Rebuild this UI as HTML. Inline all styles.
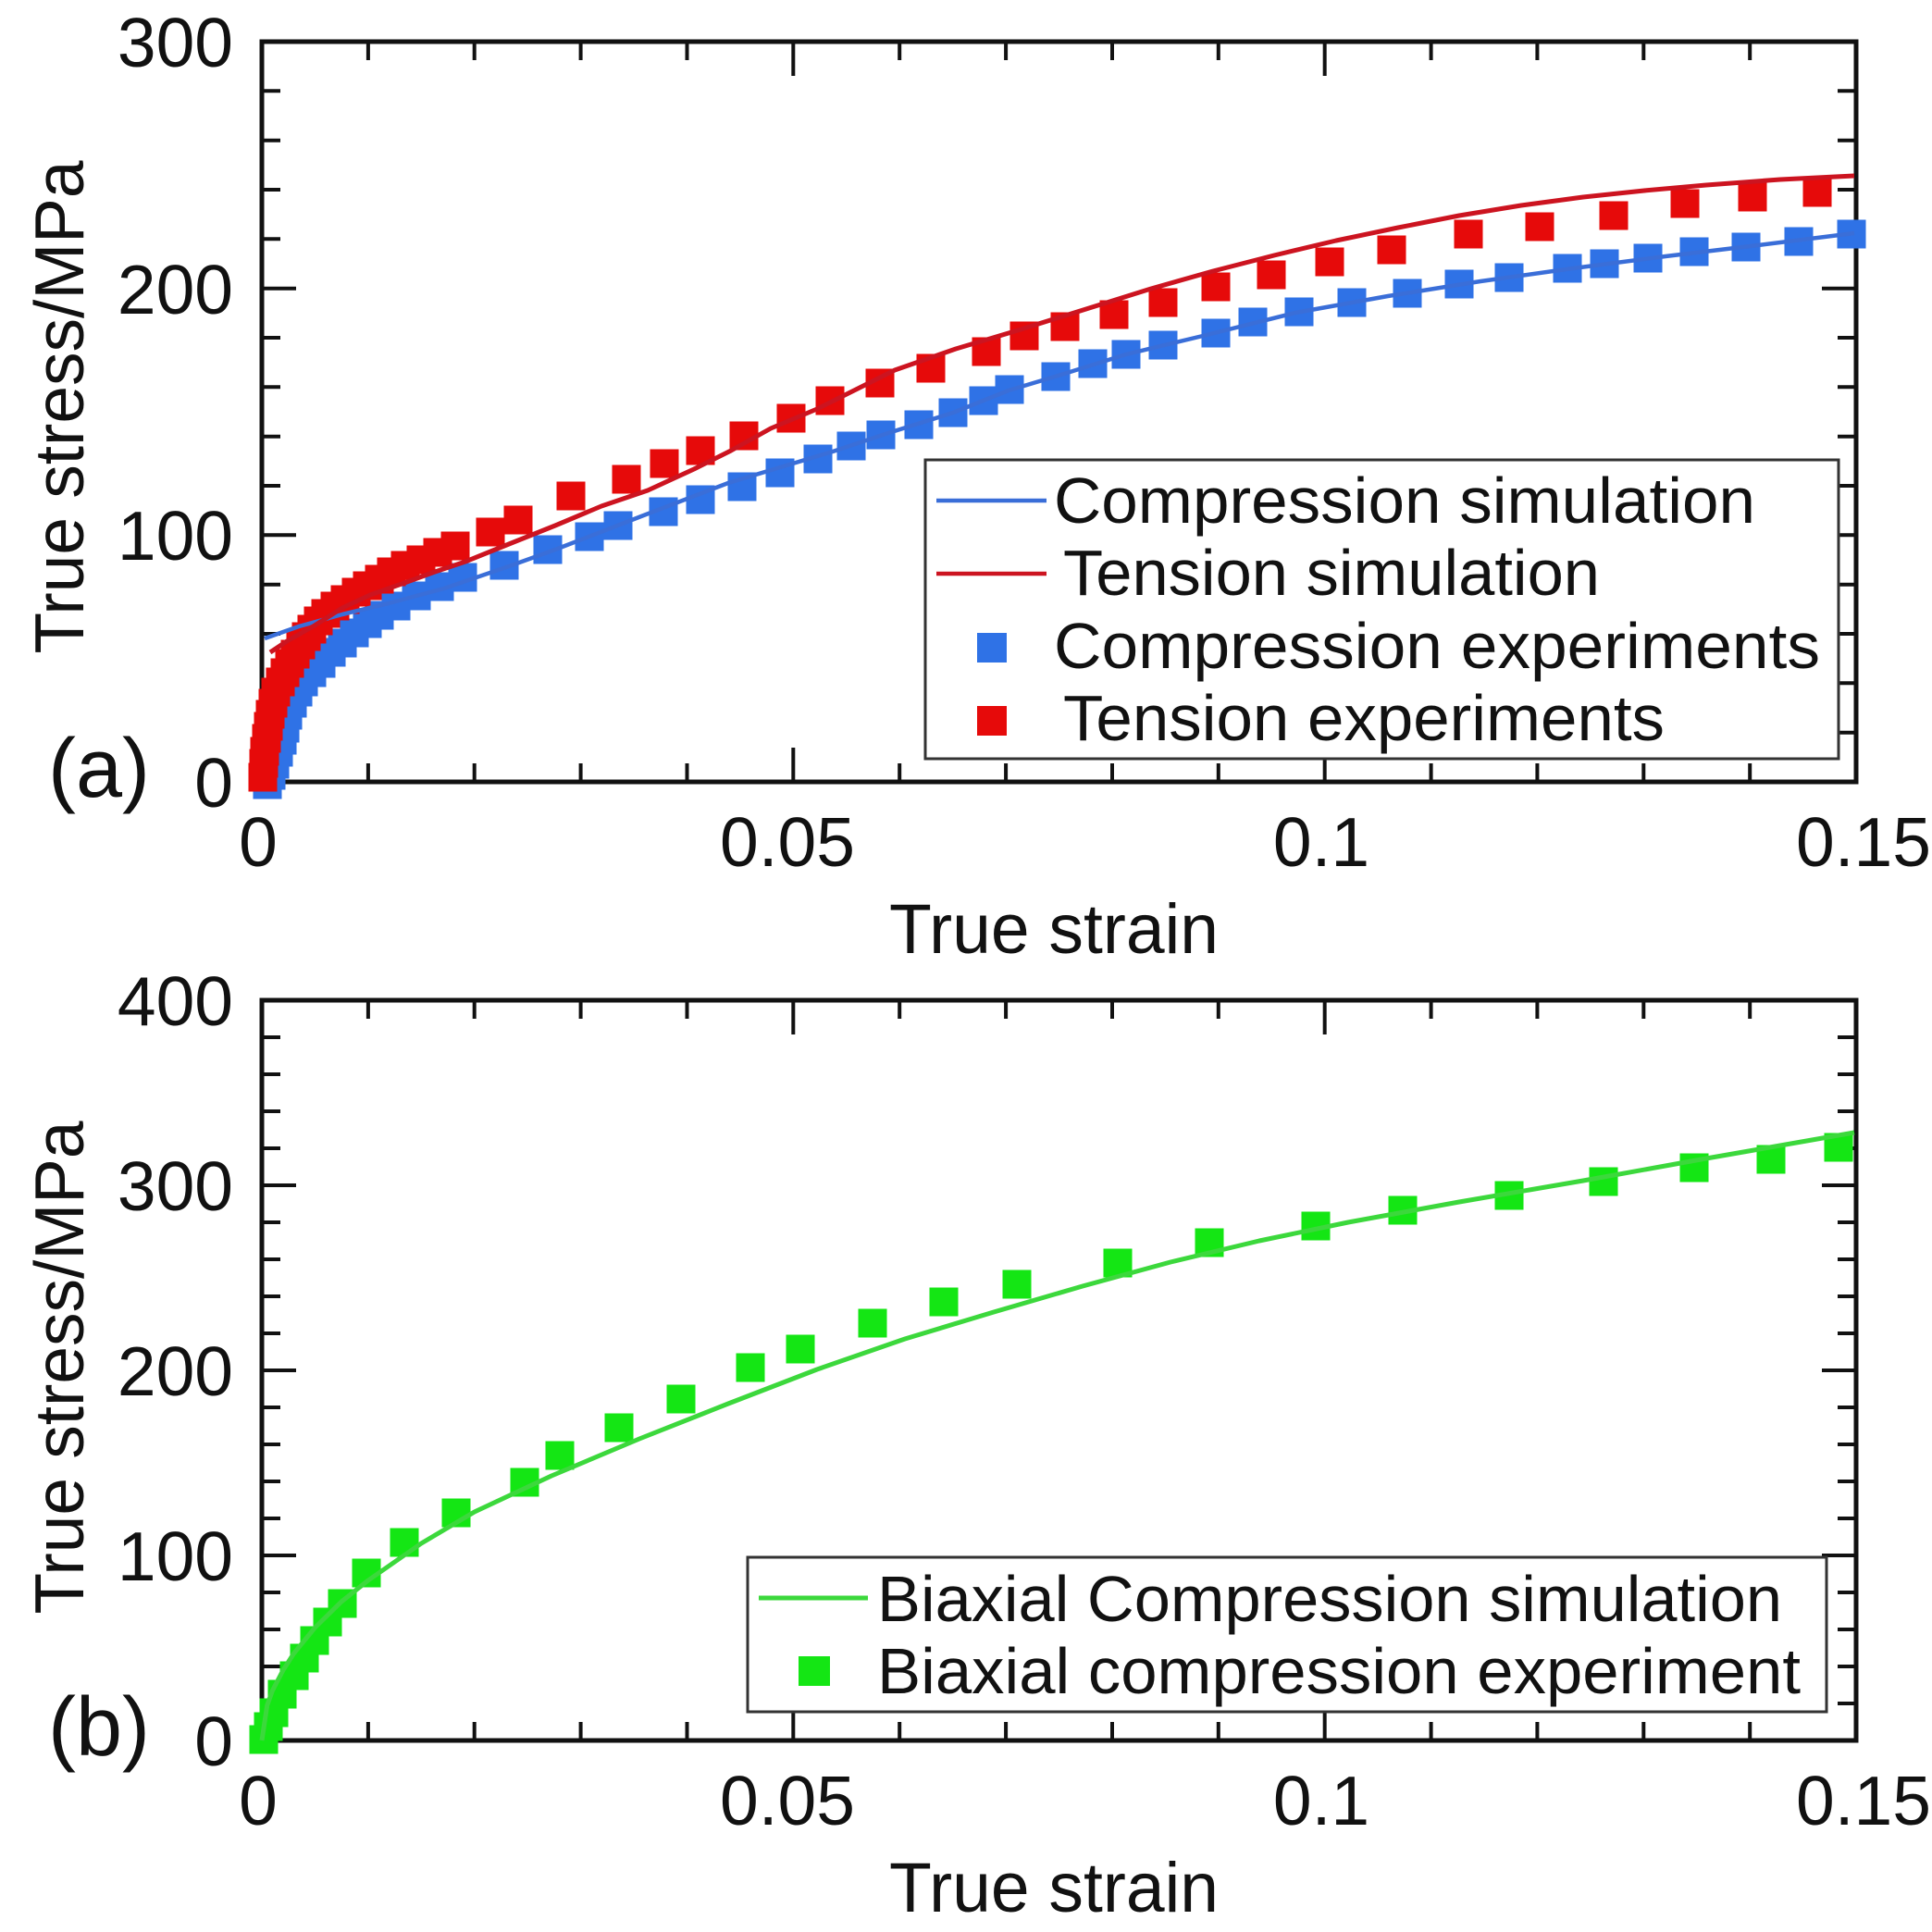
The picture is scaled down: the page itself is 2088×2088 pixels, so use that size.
<!DOCTYPE html>
<html>
<head>
<meta charset="utf-8">
<style>
html,body{margin:0;padding:0;background:#fff;}
svg{display:block;}
</style>
</head>
<body>
<svg width="2088" height="2088" viewBox="0 0 2088 2088" xmlns="http://www.w3.org/2000/svg" font-family="'Liberation Sans', Arial, sans-serif">
<rect width="2088" height="2088" fill="#fff"/>

<!-- ================= PANEL (a) ================= -->
<g stroke="#111" fill="none">
  <rect x="283" y="45" width="1723" height="800" stroke-width="5"/>
  <path stroke-width="4" d="
  M397.9 845v-20 M512.7 845v-20 M627.6 845v-20 M742.5 845v-20 M857.3 845v-37 M972.2 845v-20 M1087.1 845v-20 M1202 845v-20 M1316.8 845v-20 M1431.7 845v-37 M1546.6 845v-20 M1661.4 845v-20 M1776.3 845v-20 M1891.2 845v-20
  M397.9 45v20 M512.7 45v20 M627.6 45v20 M742.5 45v20 M857.3 45v37 M972.2 45v20 M1087.1 45v20 M1202 45v20 M1316.8 45v20 M1431.7 45v37 M1546.6 45v20 M1661.4 45v20 M1776.3 45v20 M1891.2 45v20
  M283 791.7h20 M283 738.3h20 M283 685h20 M283 631.7h20 M283 578.3h37 M283 525h20 M283 471.7h20 M283 418.3h20 M283 365h20 M283 311.7h37 M283 258.3h20 M283 205h20 M283 151.7h20 M283 98.3h20
  M2006 791.7h-20 M2006 738.3h-20 M2006 685h-20 M2006 631.7h-20 M2006 578.3h-37 M2006 525h-20 M2006 471.7h-20 M2006 418.3h-20 M2006 365h-20 M2006 311.7h-37 M2006 258.3h-20 M2006 205h-20 M2006 151.7h-20 M2006 98.3h-20"/>
</g>

<!-- blue experiments -->
<path fill="none" stroke="#2f72e6" stroke-width="31" stroke-linecap="square" d="M289 848h.01 M293 838h.01 M297 826h.01 M301 813h.01 M305 800h.01 M308 787h.01 M311 773h.01 M316 760h.01 M322 748h.01 M328 737h.01 M337 727h.01 M347 717h.01 M358 705h.01 M370 695h.01 M383 684h.01 M397 674h.01 M410 665h.01 M428 655h.01 M450 644h.01 M475 634h.01 M500 624h.01 M545 611h.01 M592 594h.01 M637 580h.01 M668 568h.01 M717 553h.01 M757 540h.01 M802 526h.01 M843 511h.01 M884 496h.01 M920 482h.01 M952 470h.01 M993 459h.01 M1030 446h.01 M1063 433h.01 M1091 421h.01 M1141 407h.01 M1181 393h.01 M1217 383h.01 M1257 373h.01 M1314 360h.01 M1354 348h.01 M1404 337h.01 M1461 327h.01 M1521 317h.01 M1577 307h.01 M1631 300h.01 M1694 290h.01 M1734 285h.01 M1781 279h.01 M1831 272h.01 M1887 267h.01 M1944 261h.01 M2001 253h.01"/>

<!-- red experiments -->
<path fill="none" stroke="#e60a0a" stroke-width="31" stroke-linecap="square" d="M284 840h.01 M285 825h.01 M286 812h.01 M288 798h.01 M290 785h.01 M292 772h.01 M295 760h.01 M298 748h.01 M303 737h.01 M308 727h.01 M313 717h.01 M319 707h.01 M325 697h.01 M331 688h.01 M337 680h.01 M344 671h.01 M352 663h.01 M362 655h.01 M373 648h.01 M385 640h.01 M397 633h.01 M410 626h.01 M423 618h.01 M438 611h.01 M455 605h.01 M473 597h.01 M492 590h.01 M530 575h.01 M560 562h.01 M617 536h.01 M677 518h.01 M718 501h.01 M757 487h.01 M804 471h.01 M855 452h.01 M897 433h.01 M951 414h.01 M1006 398h.01 M1066 380h.01 M1107 363h.01 M1151 353h.01 M1204 340h.01 M1257 327h.01 M1314 310h.01 M1374 297h.01 M1437 283h.01 M1504 270h.01 M1587 253h.01 M1664 245h.01 M1744 233h.01 M1821 220h.01 M1894 213h.01 M1964 208h.01"/>

<!-- blue simulation -->
<polyline fill="none" stroke="#3a6ed8" stroke-width="4.5" stroke-linejoin="round" points="286,690 323,677 370,664 420,652 480,636 550,612 600,594 657,572 693,558 740,540 787,522 840,506 900,488 960,468 1030,446 1090,422 1150,404 1217,383 1300,363 1400,338 1500,320 1600,304 1700,290 1800,277 1900,265 2004,252"/>

<!-- red simulation -->
<polyline fill="none" stroke="#cc1420" stroke-width="5" stroke-linejoin="round" points="292,705 310,693 340,676 370,657 400,643 437,630 470,618 503,607 540,592 570,580 600,568 650,547 700,530 750,507 790,487 833,463 883,442 933,417 967,400 1033,377 1100,357 1177,333 1244,312 1311,293 1377,276 1444,260 1511,246 1577,233 1644,222 1711,213 1777,206 1844,200 1924,194 2004,190"/>

<!-- legend (a) -->
<rect x="1000" y="497" width="987" height="323" fill="#fff" stroke="#333" stroke-width="3"/>
<line x1="1012" y1="541" x2="1131" y2="541" stroke="#3a6ed8" stroke-width="4.5"/>
<line x1="1012" y1="620" x2="1131" y2="620" stroke="#cc1420" stroke-width="4.5"/>
<rect x="1056" y="684" width="32" height="32" fill="#2f72e6"/>
<rect x="1056" y="763" width="32" height="32" fill="#e60a0a"/>
<g font-size="70" fill="#111">
  <text x="1139" y="565" textLength="758" lengthAdjust="spacingAndGlyphs">Compression simulation</text>
  <text x="1149" y="643" textLength="580" lengthAdjust="spacingAndGlyphs">Tension simulation</text>
  <text x="1139" y="722" textLength="828" lengthAdjust="spacingAndGlyphs">Compression experiments</text>
  <text x="1149" y="800" textLength="650" lengthAdjust="spacingAndGlyphs">Tension experiments</text>
</g>

<!-- axis labels (a) -->
<g font-size="75" fill="#111">
  <text x="252" y="72" text-anchor="end">300</text>
  <text x="252" y="339" text-anchor="end">200</text>
  <text x="252" y="605" text-anchor="end">100</text>
  <text x="252" y="872" text-anchor="end">0</text>
  <text x="279" y="936" text-anchor="middle">0</text>
  <text x="851" y="936" text-anchor="middle">0.05</text>
  <text x="1428" y="936" text-anchor="middle">0.1</text>
  <text x="2014" y="936" text-anchor="middle">0.15</text>
</g>
<text x="1139" y="1030" font-size="76" fill="#111" text-anchor="middle" textLength="356" lengthAdjust="spacingAndGlyphs">True strain</text>
<text transform="translate(90,440) rotate(-90)" x="0" y="0" font-size="75" fill="#111" text-anchor="middle" textLength="533" lengthAdjust="spacingAndGlyphs">True stress/MPa</text>
<text x="52" y="861" font-size="90" fill="#111">(a)</text>

<!-- ================= PANEL (b) ================= -->
<g stroke="#111" fill="none">
  <rect x="283" y="1081" width="1723" height="800" stroke-width="5"/>
  <path stroke-width="4" d="
  M397.9 1881v-20 M512.7 1881v-20 M627.6 1881v-20 M742.5 1881v-20 M857.3 1881v-37 M972.2 1881v-20 M1087.1 1881v-20 M1202 1881v-20 M1316.8 1881v-20 M1431.7 1881v-37 M1546.6 1881v-20 M1661.4 1881v-20 M1776.3 1881v-20 M1891.2 1881v-20
  M397.9 1081v20 M512.7 1081v20 M627.6 1081v20 M742.5 1081v20 M857.3 1081v37 M972.2 1081v20 M1087.1 1081v20 M1202 1081v20 M1316.8 1081v20 M1431.7 1081v37 M1546.6 1081v20 M1661.4 1081v20 M1776.3 1081v20 M1891.2 1081v20
  M283 1841h20 M283 1801h20 M283 1761h20 M283 1721h20 M283 1681h37 M283 1641h20 M283 1601h20 M283 1561h20 M283 1521h20 M283 1481h37 M283 1441h20 M283 1401h20 M283 1361h20 M283 1321h20 M283 1281h37 M283 1241h20 M283 1201h20 M283 1161h20 M283 1121h20
  M2006 1841h-20 M2006 1801h-20 M2006 1761h-20 M2006 1721h-20 M2006 1681h-37 M2006 1641h-20 M2006 1601h-20 M2006 1561h-20 M2006 1521h-20 M2006 1481h-37 M2006 1441h-20 M2006 1401h-20 M2006 1361h-20 M2006 1321h-20 M2006 1281h-37 M2006 1241h-20 M2006 1201h-20 M2006 1161h-20 M2006 1121h-20"/>
</g>

<!-- green experiments -->
<path fill="none" stroke="#14e614" stroke-width="31" stroke-linecap="square" d="M285 1880h.01 M290 1866h.01 M296 1851h.01 M305 1831h.01 M318 1811h.01 M329 1792h.01 M340 1773h.01 M354 1753h.01 M370 1733h.01 M396 1700h.01 M437 1667h.01 M493 1635h.01 M567 1602h.01 M605 1573h.01 M669 1543h.01 M736 1512h.01 M811 1478h.01 M865 1458h.01 M943 1430h.01 M1020 1407h.01 M1099 1388h.01 M1208 1365h.01 M1307 1343h.01 M1422 1325h.01 M1516 1308h.01 M1631 1292h.01 M1733 1277h.01 M1831 1262h.01 M1914 1253h.01 M1987 1240h.01"/>

<!-- green simulation -->
<polyline fill="none" stroke="#3cd83c" stroke-width="5" stroke-linejoin="round" points="283,1881 288.7,1843 294.5,1827 306,1805 317.5,1787 340.4,1759 369,1731 397.9,1708 455.3,1668 512.7,1634 596,1595 691,1555 787,1517 883,1480 978,1447 1074,1418 1170,1390 1265,1364 1361,1341 1457,1321 1577,1299 1711,1276 1844,1252 2004,1224"/>

<!-- legend (b) -->
<rect x="808" y="1683" width="1166" height="167" fill="#fff" stroke="#333" stroke-width="3"/>
<line x1="820" y1="1727" x2="938" y2="1727" stroke="#3cd83c" stroke-width="5"/>
<rect x="863" y="1790" width="34" height="32" fill="#14e614"/>
<g font-size="70" fill="#111">
  <text x="948" y="1752" textLength="978" lengthAdjust="spacingAndGlyphs">Biaxial Compression simulation</text>
  <text x="948" y="1830" textLength="998" lengthAdjust="spacingAndGlyphs">Biaxial compression experiment</text>
</g>

<!-- axis labels (b) -->
<g font-size="75" fill="#111">
  <text x="252" y="1108" text-anchor="end">400</text>
  <text x="252" y="1308" text-anchor="end">300</text>
  <text x="252" y="1508" text-anchor="end">200</text>
  <text x="252" y="1708" text-anchor="end">100</text>
  <text x="252" y="1908" text-anchor="end">0</text>
  <text x="279" y="1972" text-anchor="middle">0</text>
  <text x="851" y="1972" text-anchor="middle">0.05</text>
  <text x="1428" y="1972" text-anchor="middle">0.1</text>
  <text x="2014" y="1972" text-anchor="middle">0.15</text>
</g>
<text x="1139" y="2066" font-size="76" fill="#111" text-anchor="middle" textLength="356" lengthAdjust="spacingAndGlyphs">True strain</text>
<text transform="translate(90,1478) rotate(-90)" x="0" y="0" font-size="75" fill="#111" text-anchor="middle" textLength="533" lengthAdjust="spacingAndGlyphs">True stress/MPa</text>
<text x="52" y="1897" font-size="90" fill="#111">(b)</text>

</svg>
</body>
</html>
